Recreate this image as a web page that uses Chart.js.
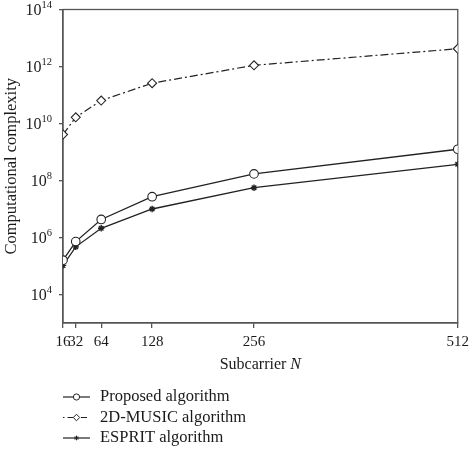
<!DOCTYPE html>
<html>
<head>
<meta charset="utf-8">
<script src="https://cdn.jsdelivr.net/npm/chart.js@4/dist/chart.umd.min.js"></script>
<style>
  html, body { margin: 0; padding: 0; background: #fff; }
  #wrap { width: 474px; height: 449px; }
</style>
</head>
<body>
<div id="wrap"><canvas id="cmplx"></canvas></div>
<script>
// subcarrier counts and complexity per algorithm
var subcarriers = [16, 32, 64, 128, 256, 512];
var proposed = [1.6e5, 7.2e5, 4.3e6, 2.7e7, 1.7e8, 1.25e9];
var music2d = [4.1e9, 1.65e10, 6.4e10, 2.6e11, 1.1e12, 4.2e12];
var esprit = [1.05e5, 4.7e5, 2.1e6, 1.0e7, 5.6e7, 3.7e8];
var yTicks = [1e4, 1e6, 1e8, 1e10, 1e12, 1e14];
var xTitle = ['Subcarrier ', 'N'];

var serif = "'Liberation Serif', 'DejaVu Serif', serif";
var ink = '#222';
var txt = '#1a1a1a';
var axisCol = '#555';

function pts(ys) {
  return subcarriers.map(function (n, i) { return { x: n, y: ys[i] }; });
}

// box round the plot area (top and right edges)
var frame = {
  id: 'frame',
  beforeDatasetsDraw: function (chart) {
    var a = chart.chartArea, ctx = chart.ctx;
    ctx.save();
    ctx.strokeStyle = axisCol;
    ctx.lineWidth = 1.3;
    ctx.strokeRect(a.left, a.top, a.right - a.left, a.bottom - a.top);
    ctx.restore();
  }
};

// 10^n labels with a raised exponent, and the x title with italic N
var axisText = {
  id: 'axisText',
  afterDraw: function (chart) {
    var ctx = chart.ctx, ys = chart.scales.y, xs = chart.scales.x;
    var right = ys.right - 11;
    ctx.save();
    ctx.fillStyle = txt;
    ctx.textBaseline = 'middle';
    yTicks.forEach(function (v) {
      var py = ys.getPixelForValue(v);
      var ex = String(Math.round(Math.log10(v)));
      ctx.font = '10.5px ' + serif;
      var ew = ctx.measureText(ex).width;
      ctx.textAlign = 'right';
      ctx.fillText(ex, right, py - 4);
      ctx.font = '16px ' + serif;
      ctx.fillText('10', right - ew, py + 1.5);
    });
    ctx.font = '16px ' + serif;
    var w1 = ctx.measureText(xTitle[0]).width;
    ctx.font = 'italic 16px ' + serif;
    var w2 = ctx.measureText(xTitle[1]).width;
    var cx = (xs.left + xs.right) / 2, x0 = cx - (w1 + w2) / 2;
    ctx.textAlign = 'left';
    ctx.font = '16px ' + serif;
    ctx.fillText(xTitle[0], x0, 365);
    ctx.font = 'italic 16px ' + serif;
    ctx.fillText(xTitle[1], x0 + w1, 365);
    ctx.restore();
  }
};

// stacked legend under the x title
var stackLegend = {
  id: 'stackLegend',
  afterDraw: function (chart) {
    var ctx = chart.ctx;
    var x0 = 63, y0 = 397, gap = 20.5;
    ctx.save();
    chart.data.datasets.forEach(function (ds, i) {
      var y = y0 + i * gap;
      ctx.strokeStyle = ds.borderColor;
      ctx.lineWidth = 1.2;
      ctx.setLineDash(ds.legendDash || []);
      ctx.beginPath();
      ctx.moveTo(x0, y);
      ctx.lineTo(x0 + 27, y);
      ctx.stroke();
      ctx.setLineDash([]);
      ctx.fillStyle = ds.backgroundColor;
      ctx.lineWidth = 1;
      Chart.helpers.drawPoint(ctx, {
        pointStyle: ds.pointStyle,
        radius: ds.pointRadius * 0.72,
        borderWidth: 1
      }, x0 + 13.5, y);
      ctx.fillStyle = txt;
      ctx.font = '16.5px ' + serif;
      ctx.textAlign = 'left';
      ctx.textBaseline = 'middle';
      ctx.fillText(ds.label, x0 + 37, y);
    });
    ctx.restore();
  }
};

new Chart(document.getElementById('cmplx'), {
  type: 'line',
  data: {
    datasets: [{
      label: 'Proposed algorithm',
      data: pts(proposed),
      borderColor: ink,
      backgroundColor: '#fff',
      borderWidth: 1.3,
      pointStyle: 'circle',
      pointRadius: 4.3,
      pointBorderWidth: 1.1
    }, {
      label: '2D-MUSIC algorithm',
      data: pts(music2d),
      borderColor: ink,
      backgroundColor: '#fff',
      borderWidth: 1.2,
      borderDash: [8, 3, 2, 3],
      legendDash: [1.5, 3, 6, 3],
      pointStyle: 'rectRot',
      pointRadius: 4.5,
      pointBorderWidth: 1.1
    }, {
      label: 'ESPRIT algorithm',
      data: pts(esprit),
      borderColor: ink,
      backgroundColor: ink,
      borderWidth: 1.3,
      pointStyle: 'star',
      pointRadius: 3.2,
      pointBorderWidth: 1.4
    }]
  },
  options: {
    responsive: true,
    maintainAspectRatio: false,
    animation: false,
    layout: { autoPadding: false, padding: { top: 9.5, left: 0, right: 12, bottom: 70 } },
    plugins: {
      legend: { display: false },
      tooltip: { enabled: false }
    },
    scales: {
      x: {
        type: 'linear',
        min: 16,
        max: 512,
        afterBuildTicks: function (s) {
          s.ticks = subcarriers.map(function (v) { return { value: v }; });
        },
        afterFit: function (s) { s.height = 56; },
        ticks: {
          autoSkip: false,
          maxRotation: 0,
          padding: 5,
          color: txt,
          font: { family: serif, size: 15 },
          callback: function (v) { return String(v); }
        },
        grid: { drawOnChartArea: false, tickLength: 5, color: axisCol, lineWidth: 1.3 },
        border: { color: axisCol, width: 1.3 },
        title: { display: false }
      },
      y: {
        type: 'logarithmic',
        min: 1e3,
        max: 1e14,
        afterBuildTicks: function (s) {
          s.ticks = yTicks.map(function (v) { return { value: v }; });
        },
        afterFit: function (s) { s.width = 63; },
        ticks: { display: false },
        grid: { drawOnChartArea: false, tickLength: 4, color: axisCol, lineWidth: 1.3 },
        border: { color: axisCol, width: 1.3 },
        title: {
          display: true,
          text: 'Computational complexity',
          color: txt,
          font: { family: serif, size: 16.5 },
          padding: { top: 2, bottom: 0 }
        }
      }
    }
  },
  plugins: [frame, axisText, stackLegend]
});
</script>
</body>
</html>
